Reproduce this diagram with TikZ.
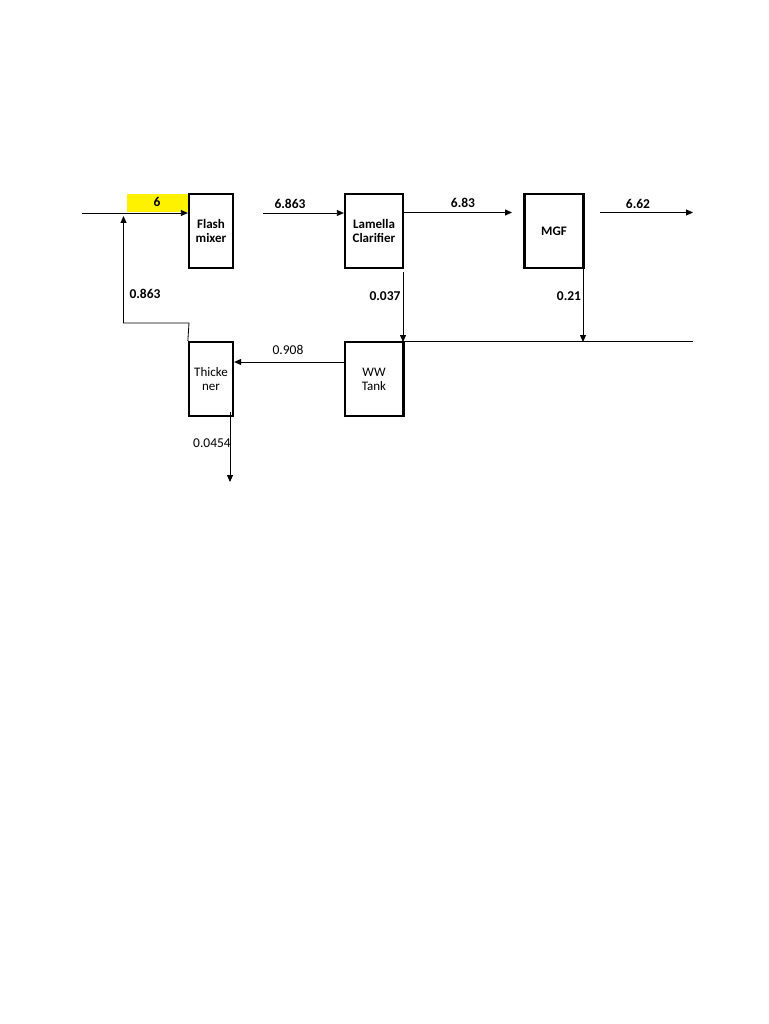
\documentclass[tikz,border=0pt]{standalone}
\usepackage{fontspec}
\setmainfont{Carlito}
\usetikzlibrary{arrows.meta}
\begin{document}
\begin{tikzpicture}[x=1pt,y=-1pt,
  unit/.style={draw,line width=2.3pt,minimum width=44pt,minimum height=74pt,inner sep=0pt,align=center,font=\fontsize{13}{14}\selectfont\bfseries},
  wunit/.style={unit,font=\fontsize{13}{14}\selectfont},
  lbl/.style={font=\fontsize{13.5}{14}\selectfont\bfseries,inner sep=0pt},
  wlbl/.style={font=\fontsize{13.5}{14}\selectfont,inner sep=0pt},
  flow/.style={line width=0.8pt,-{Triangle[length=7pt,width=6pt]}},
  pline/.style={line width=0.8pt}]
\useasboundingbox (0,0) rectangle (768,1024);
\fill[white] (0,0) rectangle (768,1024);
% yellow input cell
\node[fill=yellow,minimum width=61pt,minimum height=18pt,inner sep=0pt,anchor=north west] (cell) at (127,194) {};
\node[lbl] (l6) at (157,202) {6};
% units
\node[unit] (fm) at (211,231) {Flash\\mixer};
\node[unit,minimum width=58pt] (lc) at (374,231) {Lamella\\Clarifier};
\node[unit,minimum width=59pt] (mgf) at (554,231) {MGF};
\node[wunit,minimum width=58pt] (ww) at (374,379) {WW\\Tank};
\node[wunit] (th) at (211,379) {Thicke\\ner};
% coordinates
\coordinate (in0) at (82,213);
\coordinate (a1) at (263,213);
\coordinate (out0) at (600,212.5);
\coordinate (out1) at (693,212.5);
\coordinate (lcd0) at (403,272);
\coordinate (lcd1) at (403,342);
\coordinate (md1) at (583,342);
\coordinate (hl0) at (403,341.5);
\coordinate (hl1) at (693,341.5);
\coordinate (fb1) at (189,323);
\coordinate (fb2) at (123.5,323);
\coordinate (fb3) at (123.5,216);
\coordinate (td0) at (230,412);
\coordinate (td1) at (230,482);
% flows
\draw[flow] (in0) -- (fm.west |- in0);
\draw[flow] (a1) -- (lc.west |- a1);
\draw[flow] (lc.east |- 0,212.5) -- (512,212.5);
\draw[flow] (out0) -- (out1);
\draw[flow] (lcd0) -- (lcd1);
\draw[flow] (mgf.south -| md1) -- (md1);
\draw[pline] (hl0) -- (hl1);
\draw[flow] (ww.west |- 0,362) -- (th.east |- 0,362);
\draw[flow] (th.north west) -- (fb1) -- (fb2) -- (fb3);
\draw[flow] (td0) -- (td1);
\draw[line width=2.3pt] (ww.north east) -- (ww.south east);
% labels
\node[lbl] (l1) at (290,203.5) {6.863};
\node[lbl] (l2) at (463,202.5) {6.83};
\node[lbl] (l3) at (638,203.5) {6.62};
\node[lbl] (l4) at (385,296) {0.037};
\node[lbl] (l5) at (569,296) {0.21};
\node[lbl] (l7) at (145,294) {0.863};
\node[wlbl] (l8) at (288,350) {0.908};
\node[wlbl] (l9) at (212,443) {0.0454};
\end{tikzpicture}
\end{document}
